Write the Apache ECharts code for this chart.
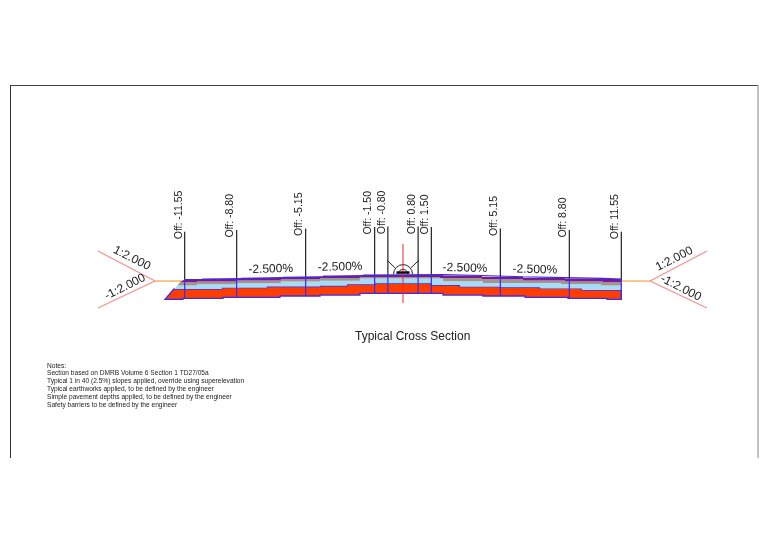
<!DOCTYPE html>
<html><head><meta charset="utf-8">
<script src="https://cdn.jsdelivr.net/npm/echarts@6/dist/echarts.min.js"></script>
<style>html,body{margin:0;padding:0;background:#fff}#c{width:768px;height:543px}</style>
</head><body><div id="c"></div>
<script>
// Offsets in metres from the centreline, levels in metres from the crown.
const surfaceBreaks=[-11.55,-10.63,-8.57,-6.35,-4.23,-2.12,2.12,4.18,6.35,8.57,10.58,11.55];
const surfaceLevels=[-0.29,-0.24,-0.19,-0.14,-0.08,-0.02,-0.08,-0.14,-0.19,-0.23,-0.26];
const grayBreaks=[-11.8,-10.9,-8.78,-6.46,-4.39,-2.28,1.96,4.18,6.35,8.57,10.58,11.55];
const grayLevels=[-0.44,-0.39,-0.34,-0.27,-0.21,-0.15,-0.21,-0.28,-0.34,-0.39,-0.44];
const blueBreaks=[-11.93,-10.9,-8.78,-6.46,-4.39,-2.28,2.12,4.23,8.36,10.48,11.55];
const blueLevels=[-0.6,-0.54,-0.49,-0.4,-0.35,-0.24,-0.38,-0.47,-0.52,-0.6];
const redBreaks=[-12.12,-9.58,-7.2,-4.39,-2.96,-1.48,1.48,3.02,5.13,7.25,9.47,11.55];
const redLevels=[-0.79,-0.72,-0.66,-0.62,-0.54,-0.49,-0.58,-0.67,-0.7,-0.76,-0.85];
const baseBreaks=[-12.59,-11.64,-9.52,-6.51,-4.39,-2.28,2.12,4.23,6.46,8.73,10.79,11.55];
const baseLevels=[-1.34,-1.29,-1.23,-1.16,-1.11,-1.02,-1.11,-1.16,-1.23,-1.29,-1.34];
const offsetValues=[-11.55,-8.8,-5.15,-1.5,-0.8,0.8,1.5,5.15,8.8,11.55];
const offsetTops=[2.24,2.33,2.41,2.49,2.51,2.51,2.49,2.41,2.33,2.24];
const offsetLabels=['Off: -11.55','Off: -8.80','Off: -5.15','Off: -1.50','Off: -0.80','Off: 0.80','Off: 1.50','Off: 5.15','Off: 8.80','Off: 11.55'];
const gradeLabels=['-2.500%','-2.500%','-2.500%','-2.500%'];
const gradeOffsets=[-7,-3.33,3.28,6.98];
const gradeLevels=[0.26,0.37,0.31,0.23];
const gradeAngles=[1.4,1.4,-1.4,-1.4];
const verge=[[-13.12,-0.37],[-11.55,-0.37],[11.55,-0.37],[13.07,-0.37]];
const slopeLines=[[[-13.12,-0.37],[-16.14,1.22]],[[-13.12,-0.37],[-16.14,-1.8]],[[13.07,-0.37],[16.08,1.22]],[[13.07,-0.37],[16.08,-1.8]]];
const slopeLabels=['1:2.000','-1:2.000','1:2.000','-1:2.000'];
const slopeOffsets=[-14.35,-14.7,14.35,14.7];
const slopeLevels=[0.83,-0.68,0.8,-0.74];
const slopeAngles=[-27,27,27,-27];
const centreLine=[[0,1.59],[0,-1.53]];
const barrierLines=[[[-0.85,0.74],[-0.42,0.33]],[[0.85,0.74],[0.42,0.33]]];
const barrierBase=[[-0.35,0.08],[0.35,0.08]];
const barrierRadii=[0.5,0.25];
const chartTitle='Typical Cross Section';
const notes=['Notes:','Section based on DMRB Volume 6 Section 1 TD27/05a','Typical 1 in 40 (2.5%) slopes applied, override using superelevation','Typical earthworks applied, to be defined by the engineer','Simple pavement depths applied, to be defined by the engineer','Safety barriers to be defined by the engineer'];

function steps(br,lv){const p=[];lv.forEach((v,i)=>{p.push([br[i],v]);p.push([br[i+1],v]);});return p;}
function levelAt(br,lv,x){for(let i=0;i<lv.length;i++){if(x<=br[i+1])return lv[i];}return lv[lv.length-1];}
function poly(top,bottom){return steps(top[0],top[1]).concat(steps(bottom[0],bottom[1]).reverse());}
const S=[surfaceBreaks,surfaceLevels],G=[grayBreaks,grayLevels],B=[blueBreaks,blueLevels],R=[redBreaks,redLevels],Z=[baseBreaks,baseLevels];
const LINE='#3a2cf0';
function layer(name,pts,fill,stroke,w){return{type:'custom',name,silent:true,data:[0],renderItem:(p,api)=>({type:'polygon',shape:{points:pts.map(q=>api.coord(q))},style:{fill,stroke:stroke||null,lineWidth:w||0}}),z:2};}
function lines(name,segs,color,w,z){return segs.map(s=>({type:'line',name,data:s,symbol:'none',silent:true,lineStyle:{color,width:w},z:z||3}));}
function texts(name,labels,xs,ys,angles,size,align,color){return{type:'custom',name,silent:true,data:labels.map((_,i)=>i),z:6,renderItem:(p,api)=>{const i=p.dataIndex,c=api.coord([xs[i],ys[i]]);return{type:'text',x:c[0],y:c[1],rotation:angles[i]*Math.PI/180,style:{text:labels[i],textAlign:align,textVerticalAlign:'middle',fontFamily:'Liberation Sans',fontSize:size,fill:color}};}};}
const series=[
 layer('Sub-base',poly(R,Z),'#ff3d00',LINE,1.3),
 layer('Base',poly(B,R),'#a6dcf8'),
 layer('Binder',poly(G,B),'#a0968c'),
 layer('Surface',poly(S,G),'#7a1a92')
];
series.push({type:'line',name:'Surface edge',data:steps(S[0],S[1]),symbol:'none',silent:true,lineStyle:{color:LINE,width:1.1},z:3});
series.push({type:'line',name:'Verge',data:verge.slice(0,2),symbol:'none',silent:true,lineStyle:{color:'#f7b267',width:1.5},z:1});
series.push({type:'line',name:'Verge',data:verge.slice(2),symbol:'none',silent:true,lineStyle:{color:'#f7b267',width:1.5},z:1});
series.push(...lines('Slope',slopeLines,'#f58e8e',1.2,1));
offsetValues.forEach((x,i)=>{
 const s=levelAt(S[0],S[1],x),b=levelAt(Z[0],Z[1],x);
 series.push(...lines('Offset',[[[x,offsetTops[i]],[x,s]]],'#222',1.2,4));
 series.push(...lines('Depth',[[[x,s],[x,b]]],LINE,1.2,4));
});
series.push(...lines('Centre',[centreLine],'#f0282c',1,5));
series.push(...lines('Barrier',barrierLines,'#222',1,5));
series.push(...lines('Barrier',[barrierBase],'#111',2.5,5));
series.push({type:'custom',name:'Barrier',silent:true,data:barrierRadii,z:5,renderItem:(p,api)=>{const c=api.coord([0,0]),e=api.coord([barrierRadii[p.dataIndex],0]);return{type:'arc',shape:{cx:c[0],cy:c[1],r:e[0]-c[0],startAngle:Math.PI,endAngle:2*Math.PI},style:{stroke:'#222',fill:null,lineWidth:1}};}});
series.push(texts('Offsets',offsetLabels,offsetValues.map(x=>x-0.32),offsetTops.map(t=>t-0.4),offsetValues.map(()=>90),10.5,'left','#222'));
series.push(texts('Grades',gradeLabels,gradeOffsets,gradeLevels,gradeAngles,12,'center','#222'));
series.push(texts('Slopes',slopeLabels,slopeOffsets,slopeLevels,slopeAngles,12,'center','#222'));
const chart=echarts.init(document.getElementById('c'),null,{renderer:'canvas'});
chart.setOption({
 animation:false,backgroundColor:'#fff',
 grid:{left:0,right:0,top:0,bottom:0},
 xAxis:{type:'value',min:-21.32,max:19.31,show:false},
 yAxis:{type:'value',min:-14.23,max:14.5,show:false},
 tooltip:{show:false},
 title:{text:chartTitle,left:355,top:331,padding:0,textStyle:{fontFamily:'Liberation Sans',fontSize:12,fontWeight:'normal',color:'#222'}},
 graphic:[
  {type:'line',shape:{x1:10,y1:85.5,x2:758,y2:85.5},style:{stroke:'#444',lineWidth:1}},
  {type:'line',shape:{x1:10.5,y1:85,x2:10.5,y2:458},style:{stroke:'#333',lineWidth:1}},
  {type:'line',shape:{x1:758,y1:85,x2:758,y2:458},style:{stroke:'#888',lineWidth:1}},
  ...notes.map((t,i)=>({type:'text',x:47,y:[366,373.5,381.5,389.5,397.5,405][i],style:{text:t,fontFamily:'Liberation Sans',fontSize:6.6,fill:'#222',textVerticalAlign:'middle'}}))
 ],
 series
});
</script></body></html>
